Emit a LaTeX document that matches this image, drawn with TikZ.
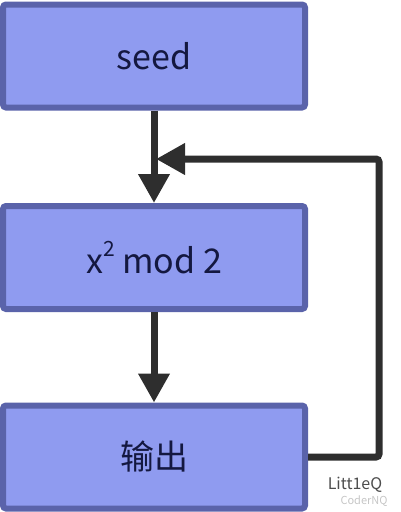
\documentclass[tikz,border=0pt]{standalone}
\usepackage{fontspec}
\setmainfont{Noto Sans CJK SC}
\usetikzlibrary{arrows.meta}
\definecolor{boxfill}{RGB}{143,155,240}
\definecolor{boxline}{RGB}{90,99,170}
\definecolor{boxtext}{RGB}{20,24,64}
\definecolor{conn}{RGB}{46,46,46}
\tikzset{
  flowbox/.style={draw=boxline, fill=boxfill, line width=6pt, rounded corners=3pt,
    minimum width=302pt, minimum height=103pt, inner sep=0pt, text=boxtext,
    font=\fontsize{34}{40}\selectfont},
  flowarrow/.style={draw=conn, line width=7pt, -{Triangle[length=29pt,width=30pt]}},
  wmark/.style={inner sep=0pt}
}
\begin{document}
\begin{tikzpicture}[x=1pt,y=-1pt]
\useasboundingbox (0,0) rectangle (400,512);
\node[flowbox] (seed) at (154,56) {seed};
\node[flowbox] (sq) at (154,257.5) {x\raisebox{0.52em}{\fontsize{21}{21}\selectfont 2} mod 2};
\node[flowbox] (out) at (154,457) {输出};
\coordinate (corner) at (379,159);
\coordinate (fb) at (156,159);
\draw[flowarrow] (seed.south) -- (sq.north);
\draw[flowarrow] (sq.south) -- (out.north);
\draw[flowarrow, rounded corners=3pt] (out.east) -| (corner) -- (fb);
\node[wmark, text=conn!85, font=\fontsize{16}{16}\selectfont] (wm1) at (355,485) {Litt1eQ};
\node[wmark, text=gray!45, font=\fontsize{11}{11}\selectfont] (wm2) at (364,501) {CoderNQ};
\end{tikzpicture}
\end{document}
